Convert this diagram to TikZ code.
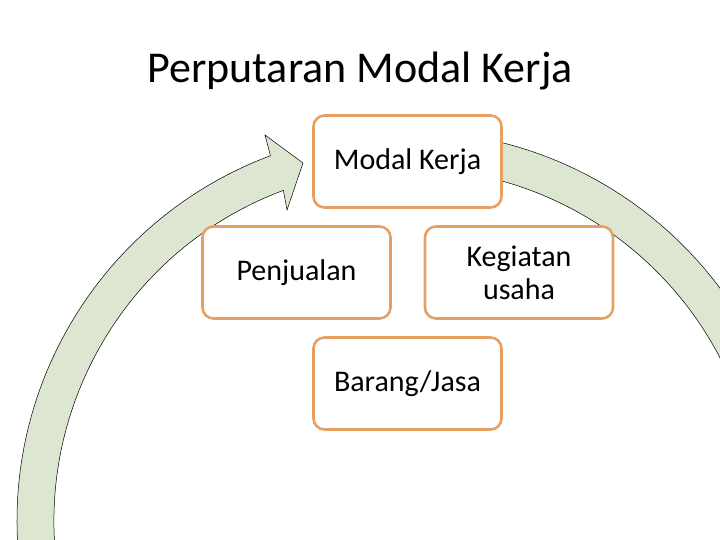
\documentclass[tikz,border=0pt]{standalone}
\usepackage{fontspec}
\setmainfont{Carlito}
\usetikzlibrary{calc}
\definecolor{boxline}{HTML}{E6A064}
\definecolor{arrowfill}{HTML}{DCE6D1}
\tikzset{
  stepbox/.style={draw=boxline, line width=2.6pt, fill=white, rounded corners=11pt,
    minimum width=188pt, minimum height=92pt, align=center, inner sep=2pt,
    font=\fontsize{30}{33}\selectfont},
  cyclearrow/.style={fill=arrowfill, draw=black, line width=0.5pt, line join=miter},
  titletext/.style={font=\fontsize{44}{50}\selectfont, anchor=base, inner sep=0pt}
}
\begin{document}
\begin{tikzpicture}[x=1pt,y=1pt]
\useasboundingbox (0,0) rectangle (720,540);
\clip (0,0) rectangle (720,540);
\fill[white] (0,0) rectangle (720,540);
\coordinate (C) at (407,19);
% big circular arrow
\path[cyclearrow]
  ($(C)+(95:390)$) arc[start angle=95, end angle=-249.5, radius=390]
  -- (265,405) -- (303,377) -- (287,330)
  -- ($(C)+(110.5:353)$) arc[start angle=-249.5, end angle=95, radius=353] -- cycle;
% title
\node[titletext] (title) at (360,457) {Perputaran Modal Kerja};
% boxes
\node[stepbox] (mk) at (407.5,378.5) {Modal Kerja};
\node[stepbox] (pen) at (296.5,267.5) {Penjualan};
\node[stepbox] (keg) at (519,267.5) {Kegiatan\\usaha};
\node[stepbox] (bar) at (407.5,156.5) {Barang/Jasa};
\end{tikzpicture}
\end{document}
